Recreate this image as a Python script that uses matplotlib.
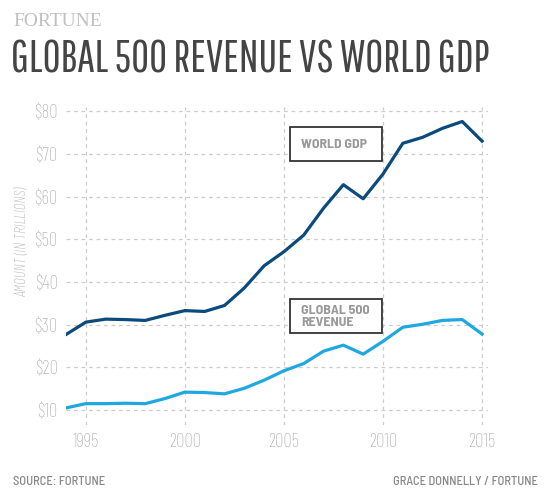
import matplotlib
matplotlib.use('Agg')
import matplotlib.pyplot as plt
from matplotlib.patches import Rectangle

# ── Data ──────────────────────────────────────────────────────────────────────
years = list(range(1994, 2016))
world_gdp = [27.7, 30.6, 31.3, 31.2, 31.0, 32.2, 33.3, 33.1, 34.5, 38.6,
             43.8, 47.1, 51.0, 57.3, 62.8, 59.5, 65.3, 72.5, 73.9, 76.0,
             77.6, 73.0]
global500 = [10.5, 11.5, 11.5, 11.6, 11.5, 12.7, 14.2, 14.1, 13.8, 15.1,
             17.0, 19.2, 20.9, 23.8, 25.2, 23.1, 26.1, 29.4, 30.1, 31.0,
             31.2, 27.8]
y_ticks = [10, 20, 30, 40, 50, 60, 70, 80]
x_ticks = [1995, 2000, 2005, 2010, 2015]

DARK = '#0b4a7c'
LIGHT = '#1fa8e0'
GRID = '#cccccc'
TITLE_FONT = ['Pathway Gothic One', 'DejaVu Sans']
TICK_FONT = ['Barlow Condensed', 'DejaVu Sans']
LABEL_FONT = ['Barlow Semi Condensed', 'DejaVu Sans']

fig = plt.figure(figsize=(5.45, 5.0), dpi=100)
ax = fig.add_axes([66/545, 1-425/500, (488-66)/545, (425-107)/500])

ax.plot(years, world_gdp, color=DARK, lw=2.3, zorder=3)
ax.plot(years, global500, color=LIGHT, lw=2.3, zorder=3)

ax.set_xlim(1994, 2015.3)
ax.set_ylim(6.5, 81)
ax.set_xticks(x_ticks)
ax.set_xticklabels([str(x) for x in x_ticks])
ax.set_yticks(y_ticks)
ax.set_yticklabels([f'${v}' for v in y_ticks])
ax.grid(True, color=GRID, lw=0.9, ls=(0, (3, 3)))
ax.set_axisbelow(True)
for s in ax.spines.values():
    s.set_visible(False)
ax.tick_params(length=0, labelsize=13.5, labelcolor='#aaaaaa', pad=6)
for lbl in ax.get_xticklabels() + ax.get_yticklabels():
    lbl.set_fontfamily(TICK_FONT)
    lbl.set_fontweight('light')

# series labels in boxes
ax.add_patch(Rectangle((2005.3, 68.4), 4.64, 7.9, fc='white',
                       ec='#333333', lw=1.3, zorder=4))
ax.add_patch(Rectangle((2005.3, 28.1), 4.64, 7.9, fc='white',
                       ec='#333333', lw=1.3, zorder=4))
ax.text(2005.86, 72.3, 'WORLD GDP', color='#999999', fontsize=10,
        fontweight='bold', family=LABEL_FONT, va='center', ha='left',
        zorder=5)
ax.text(2005.86, 31.9, 'GLOBAL 500\nREVENUE', color='#999999', fontsize=10,
        fontweight='bold', family=LABEL_FONT, va='center', ha='left',
        linespacing=1.05, zorder=5)

fig.text(22/545, 1-242/500, 'AMOUNT (IN TRILLIONS)', color='#aaaaaa',
         fontsize=11, fontstyle='italic', fontweight='light', family=TICK_FONT,
         rotation=90, va='center', ha='center')

fig.text(13/545, 1-22/500, 'FORTUNE', family='Liberation Serif',
         color='#c0c0c0', fontsize=14, va='center', ha='left')
fig.text(11/545, 1-60/500, 'GLOBAL 500 REVENUE VS WORLD GDP', family=TITLE_FONT,
         color='#444444', fontsize=31.5, va='center', ha='left')
fig.text(13/545, 1-482/500, 'SOURCE: FORTUNE', family=LABEL_FONT,
         fontweight='medium', color='#888888', fontsize=9, va='center', ha='left')
fig.text(538/545, 1-482/500, 'GRACE DONNELLY / FORTUNE', family=LABEL_FONT,
         fontweight='medium', color='#888888', fontsize=9, va='center', ha='right')

fig.savefig('out.png', dpi=100)
